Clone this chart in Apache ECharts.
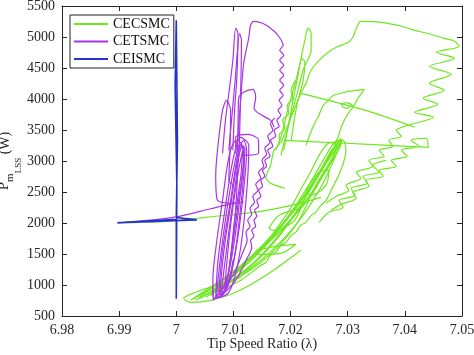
<!DOCTYPE html>
<html>
<head>
<meta charset="utf-8">
<script src="https://cdn.jsdelivr.net/npm/echarts@6/dist/echarts.min.js"></script>
<style>html,body{margin:0;padding:0;background:#fff;}#c{width:474px;height:355px;}</style>
</head>
<body>
<div id="c"></div>
<script>
// ---------- data: [tip speed ratio, P (W)] ----------
const xTicks = [6.98, 6.99, 7.00, 7.01, 7.02, 7.03, 7.04, 7.05];
const yTicks = [500, 1000, 1500, 2000, 2500, 3000, 3500, 4000, 4500, 5000, 5500];
const seriesNames = ['CECSMC', 'CETSMC', 'CEISMC'];

// CECSMC (green)
const cecsmcWing = [[7.0183,3285],[7.0218,4092],[7.0227,4253],[7.0236,4463],[7.0250,4624],[7.0266,4753],[7.0280,4834],[7.0301,4914],[7.0309,4995],[7.0315,5140],[7.0323,5253],[7.0358,5237],[7.0394,5173],[7.0417,5108],[7.0446,5044],[7.0469,4979],[7.0487,4931],[7.0495,4850],[7.0455,4753],[7.0487,4656],[7.0443,4527],[7.0481,4398],[7.0443,4253],[7.0469,4140],[7.0432,4011],[7.0458,3914],[7.0417,3785],[7.0450,3705],[7.0406,3576],[7.0385,3495],[7.0394,3398],[7.0372,3334],[7.0379,3237],[7.0355,3173],[7.0364,3076],[7.0337,3011],[7.0344,2914],[7.0315,2818],[7.0323,2721],[7.0297,2608],[7.0302,2527],[7.0280,2431],[7.0262,2318]];
const cecsmcWingChord = [[7.0218,4092],[7.0330,3820],[7.0417,3545]];
const cecsmcStrand2 = [[7.0188,3334],[7.0288,3290],[7.0441,3221],[7.0437,3366],[7.0411,3334],[7.0425,3237],[7.0394,3173],[7.0404,3076],[7.0376,3011],[7.0385,2914],[7.0355,2850],[7.0362,2753],[7.0332,2689],[7.0337,2592],[7.0309,2495],[7.0315,2398],[7.0288,2301],[7.0271,2205]];
const cecsmcStrand3 = [[7.0367,3011],[7.0344,2930],[7.0355,2818],[7.0327,2753],[7.0334,2640],[7.0306,2560],[7.0313,2447],[7.0285,2366],[7.0292,2253],[7.0267,2172],[7.0250,2011]];
const cecsmcMidLoop = [[7.0227,3253],[7.0232,3382],[7.0239,3543],[7.0244,3640],[7.0248,3705],[7.0253,3818],[7.0257,3898],[7.0266,3979],[7.0271,4030],[7.0276,4060],[7.0288,4092],[7.0301,4124],[7.0315,4140],[7.0329,4156],[7.0318,4011],[7.0309,3866],[7.0301,3769],[7.0294,3656],[7.0288,3527],[7.0283,3382],[7.0276,3253]];
const cecsmcSmallLoop = [[7.0288,3898],[7.0297,3940],[7.0308,3900],[7.0297,3850],[7.0288,3898]];
const cecsmcSpike1 = [[7.0174,3173],[7.0183,3382],[7.0195,3818],[7.0206,4189],[7.0215,4511],[7.0223,4866],[7.0227,5027],[7.0230,5140],[7.0236,5060],[7.0236,4785],[7.0223,4495],[7.0213,4140],[7.0201,3737],[7.0192,3414],[7.0183,3092]];
const cecsmcSpike2 = [[7.0188,3173],[7.0201,3818],[7.0213,4382],[7.0220,4656],[7.0225,4592],[7.0222,4302],[7.0211,3898],[7.0201,3334]];
const cecsmcWavyEdge = [[7.0209,4302],[7.0201,4140],[7.0204,4011],[7.0194,3898],[7.0197,3769],[7.0186,3656],[7.0190,3527],[7.0180,3414],[7.0181,3285],[7.0171,3173],[7.0165,2930],[7.0157,2737],[7.0165,2640],[7.0190,2560]];
const cecsmcLevel = [[6.9899,2005],[6.9937,2011],[6.9981,2027],[7.0051,2092],[7.0148,2189],[7.0209,2301],[7.0253,2414]];
const cecsmcBottom = [[7.0113,1124],[7.0069,995],[7.0034,882],[7.0013,785],[7.0025,720],[7.0060,753],[7.0104,882],[7.0157,1156],[7.0218,1560]];
const cecsmcBundle1 = [[7.0025,753],[7.0113,1318],[7.0183,1963],[7.0236,2608],[7.0280,3253],[7.0288,3366],[7.0283,3173],[7.0250,2527],[7.0201,1882],[7.0130,1269],[7.0034,753]];
const cecsmcBundle2 = [[7.0043,785],[7.0130,1398],[7.0192,2124],[7.0227,2689],[7.0271,3301],[7.0280,3253],[7.0244,2608],[7.0209,1963],[7.0148,1366],[7.0051,801]];
const cecsmcBundle3 = [[7.0069,882],[7.0113,1076],[7.0148,1318],[7.0157,1366],[7.0165,1479],[7.0174,1527],[7.0183,1640],[7.0192,1688],[7.0201,1801],[7.0209,1850],[7.0218,1963],[7.0227,2011],[7.0236,2124],[7.0244,2172],[7.0253,2285],[7.0262,2366],[7.0271,2527],[7.0288,2850],[7.0297,3173],[7.0292,3334],[7.0271,3011],[7.0236,2447],[7.0183,1882],[7.0122,1366],[7.0069,882]];
const cecsmcBundle4 = [[7.0051,834],[7.0122,1237],[7.0174,1720],[7.0218,2285],[7.0253,2850],[7.0285,3334],[7.0276,3301],[7.0239,2721],[7.0201,2172],[7.0157,1640],[7.0095,1108],[7.0051,834]];
const cecsmcBundle5 = [[7.0030,770],[7.0100,1200],[7.0170,1800],[7.0220,2400],[7.0265,3000],[7.0290,3350],[7.0285,3200],[7.0245,2600],[7.0195,2000],[7.0120,1350],[7.0040,800]];
const cecsmcBundle6 = [[7.0060,830],[7.0140,1400],[7.0200,2050],[7.0245,2700],[7.0278,3250],[7.0270,3150],[7.0230,2500],[7.0180,1900],[7.0110,1250],[7.0060,830]];
const cecsmcLoopA = [[7.0162,1914],[7.0180,2124],[7.0218,2237],[7.0204,2011],[7.0169,1882],[7.0162,1914]];
const cecsmcLoopB = [[7.0227,2527],[7.0250,2818],[7.0267,2850],[7.0262,2608],[7.0236,2447],[7.0227,2527]];
const cecsmcLoopC = [[7.0139,1560],[7.0174,1624],[7.0209,1656],[7.0183,1511],[7.0144,1495],[7.0139,1560]];

// CETSMC (magenta)
const cetsmcLevel = [[6.9897,2000],[7.0000,2100],[7.0060,2230],[7.0101,2320],[7.0118,2335]];
const cetsmcBigLoop = [[7.0106,3173],[7.0113,4028],[7.0118,4576],[7.0127,4995],[7.0130,5189],[7.0136,5253],[7.0151,5221],[7.0165,5141],[7.0178,5028],[7.0187,4866],[7.0181,4786],[7.0188,4705],[7.0181,4625],[7.0188,4544],[7.0181,4463],[7.0188,4383],[7.0181,4302],[7.0188,4222],[7.0181,4141],[7.0187,4060],[7.0180,3980],[7.0185,3899],[7.0178,3818],[7.0183,3738],[7.0176,3657],[7.0180,3560],[7.0171,3496],[7.0174,3399],[7.0165,3335],[7.0169,3238],[7.0160,3173],[7.0164,3076],[7.0155,3012],[7.0158,2915],[7.0151,2851],[7.0155,2754],[7.0148,2689],[7.0151,2592],[7.0144,2528],[7.0148,2431],[7.0141,2367],[7.0144,2270],[7.0137,2206],[7.0141,2109],[7.0136,2044],[7.0139,1948],[7.0132,1883],[7.0136,1786],[7.0130,1721],[7.0132,1608],[7.0122,1398],[7.0104,1076],[7.0078,818]];
const cetsmcWavy2 = [[7.0172,3689],[7.0165,3592],[7.0169,3496],[7.0160,3399],[7.0164,3302],[7.0155,3205],[7.0158,3108],[7.0150,3012],[7.0153,2915],[7.0144,2818],[7.0148,2721],[7.0139,2624],[7.0143,2528],[7.0134,2431],[7.0137,2334],[7.0129,2237],[7.0132,2140],[7.0125,2044],[7.0129,1947],[7.0122,1850],[7.0124,1721],[7.0118,1560],[7.0099,1156],[7.0072,833]];
const cetsmcLoopA = [[7.0074,834],[7.0081,1560],[7.0095,2366],[7.0109,3173],[7.0118,3334],[7.0123,3173],[7.0116,2366],[7.0104,1560],[7.0086,914],[7.0074,834]];
const cetsmcLoopB = [[7.0069,785],[7.0073,1398],[7.0085,2205],[7.0099,3011],[7.0113,3382],[7.0127,3253],[7.0122,2366],[7.0109,1398],[7.0092,882],[7.0069,785]];
const cetsmcLoopC = [[7.0079,914],[7.0090,1721],[7.0102,2527],[7.0115,3253],[7.0120,3205],[7.0109,2366],[7.0097,1560],[7.0083,882],[7.0079,914]];
const cetsmcLoopD = [[7.0065,753],[7.0064,1076],[7.0071,1721],[7.0081,2366],[7.0088,2850],[7.0095,3173],[7.0104,3334],[7.0108,3173],[7.0106,2527],[7.0099,1721],[7.0088,1076],[7.0065,753]];
const cetsmcLoopE = [[7.0064,963],[7.0065,785],[7.0078,834],[7.0092,1043],[7.0099,1398]];
const cetsmcLoopF = [[7.0085,995],[7.0094,1882],[7.0106,2689],[7.0116,3173],[7.0113,2769],[7.0102,2043],[7.0092,1237],[7.0085,995]];
const cetsmcLoopG = [[7.0070,800],[7.0078,1500],[7.0090,2300],[7.0103,3000],[7.0112,3300],[7.0118,3100],[7.0110,2300],[7.0098,1500],[7.0082,850],[7.0070,800]];
const cetsmcLoopH = [[7.0076,870],[7.0084,1600],[7.0097,2400],[7.0108,3050],[7.0116,3250],[7.0119,3000],[7.0112,2200],[7.0101,1400],[7.0089,950],[7.0076,870]];
const cetsmcSpike1 = [[7.0081,3124],[7.0086,3656],[7.0092,4092],[7.0099,4624],[7.0104,5140],[7.0108,5060],[7.0106,4350],[7.0102,3818],[7.0099,3173]];
const cetsmcSpike2 = [[7.0092,3173],[7.0103,4302],[7.0111,5050],[7.0114,4950],[7.0110,3173]];
const cetsmcMidLoop = [[7.0108,3334],[7.0109,4011],[7.0118,4108],[7.0134,4156],[7.0139,4027],[7.0136,3850],[7.0144,3769],[7.0165,3656],[7.0171,3544]];
const cetsmcLeftLoop = [[7.0104,2318],[7.0072,2366],[7.0069,2769],[7.0074,3334],[7.0081,3818],[7.0088,3979],[7.0095,3818],[7.0094,3173],[7.0092,2689],[7.0101,2608]];
const cetsmcBox = [[7.0104,3124],[7.0104,3382],[7.0125,3431],[7.0144,3334],[7.0144,3124],[7.0113,3092]];

// CEISMC (blue)
const ceismcPath = [[7.0000,2100],[7.0002,3300],[7.0000,5270],[6.9998,4200],[7.0001,2600],[7.0000,780],[7.0000,2060],[6.9897,2005],[7.0036,2050],[7.0000,2090]];

const groups = [
  {name: seriesNames[0], color: '#6ee81e', segs: [cecsmcBundle1, cecsmcBundle2, cecsmcBundle3, cecsmcBundle4, cecsmcBundle5, cecsmcBundle6, cecsmcLoopA, cecsmcLoopB, cecsmcLoopC, cecsmcBottom, cecsmcLevel, cecsmcWing, cecsmcWingChord, cecsmcStrand2, cecsmcStrand3, cecsmcMidLoop, cecsmcSmallLoop, cecsmcSpike1, cecsmcSpike2, cecsmcWavyEdge]},
  {name: seriesNames[1], color: '#a836e6', segs: [cetsmcLevel, cetsmcBigLoop, cetsmcWavy2, cetsmcLoopA, cetsmcLoopB, cetsmcLoopC, cetsmcLoopD, cetsmcLoopE, cetsmcLoopF, cetsmcLoopG, cetsmcLoopH, cetsmcSpike1, cetsmcSpike2, cetsmcMidLoop, cetsmcLeftLoop, cetsmcBox]},
  {name: seriesNames[2], color: '#2433c8', segs: [ceismcPath]}
];

const series = [];
groups.forEach(g => {
  g.segs.forEach(seg => {
    const isBlue = g.name === 'CEISMC';
    series.push({
      type: 'line', name: g.name, data: seg, symbol: 'none', silent: true,
      smooth: isBlue ? false : 0.3,
      lineStyle: {color: g.color, width: isBlue ? 1.6 : 1.2},
      itemStyle: {color: g.color}, emphasis: {disabled: true}, animation: false
    });
  });
});

const font = 'Liberation Serif, Times New Roman, serif';
const axisCol = '#262626';
const chart = echarts.init(document.getElementById('c'), null, {renderer: 'canvas'});
chart.setOption({
  backgroundColor: '#fff',
  animation: false,
  grid: {left: 62, right: 12, top: 6, bottom: 39, containLabel: false, outerBoundsMode: 'none'},
  legend: {
    data: seriesNames, left: 70, top: 15, orient: 'vertical',
    itemWidth: 34, itemHeight: 14, itemGap: 3.5,
    padding: [2, 4, 2, 3], borderColor: '#222', borderWidth: 1, backgroundColor: '#fff',
    itemStyle: {opacity: 0}, lineStyle: {width: 2},
    textStyle: {fontFamily: font, fontSize: 14, color: '#111'},
    selectedMode: false
  },
  xAxis: [{
    type: 'value', min: 6.98, max: 7.05, interval: 0.01, position: 'bottom',
    name: 'Tip Speed Ratio (λ)', nameLocation: 'middle', nameGap: 21, nameMoveOverlap: false,
    nameTextStyle: {fontFamily: font, fontSize: 14, color: axisCol},
    axisLine: {lineStyle: {color: axisCol, width: 1}},
    axisTick: {inside: true, length: 5, lineStyle: {color: axisCol}},
    axisLabel: {fontFamily: font, fontSize: 14, color: axisCol, margin: 7, formatter: v => String(+v.toFixed(2))},
    splitLine: {show: false}
  }, {
    type: 'value', min: 6.98, max: 7.05, interval: 0.01, position: 'top',
    axisLine: {lineStyle: {color: axisCol, width: 1}},
    axisTick: {inside: true, length: 5, lineStyle: {color: axisCol}},
    axisLabel: {show: false}, splitLine: {show: false}
  }],
  yAxis: [{
    type: 'value', min: 500, max: 5500, interval: 500, position: 'left',
    name: '{p|P}{m|m}{l|LSS}{w| (W)}', nameLocation: 'middle', nameGap: 39, nameRotate: 90, nameMoveOverlap: false,
    nameTextStyle: {
      fontFamily: font, color: axisCol,
      rich: {
        p: {fontFamily: font, fontSize: 15, color: axisCol, verticalAlign: 'bottom', padding: [0, 0, 11, 0]},
        m: {fontFamily: font, fontSize: 11, color: axisCol, verticalAlign: 'bottom', padding: [0, 0, 7, 0]},
        l: {fontFamily: font, fontSize: 9, color: axisCol, verticalAlign: 'bottom', padding: [0, 0, 0, 0]},
        w: {fontFamily: font, fontSize: 14, color: axisCol, verticalAlign: 'bottom', padding: [0, 0, 11, 0]}
      }
    },
    axisLine: {lineStyle: {color: axisCol, width: 1}},
    axisTick: {inside: true, length: 5, lineStyle: {color: axisCol}},
    axisLabel: {fontFamily: font, fontSize: 14, color: axisCol, margin: 7, formatter: v => String(v)},
    splitLine: {show: false}
  }, {
    type: 'value', min: 500, max: 5500, interval: 500, position: 'right',
    axisLine: {lineStyle: {color: axisCol, width: 1}},
    axisTick: {inside: true, length: 5, lineStyle: {color: axisCol}},
    axisLabel: {show: false}, splitLine: {show: false}
  }],
  series: series
});
</script>
</body>
</html>
